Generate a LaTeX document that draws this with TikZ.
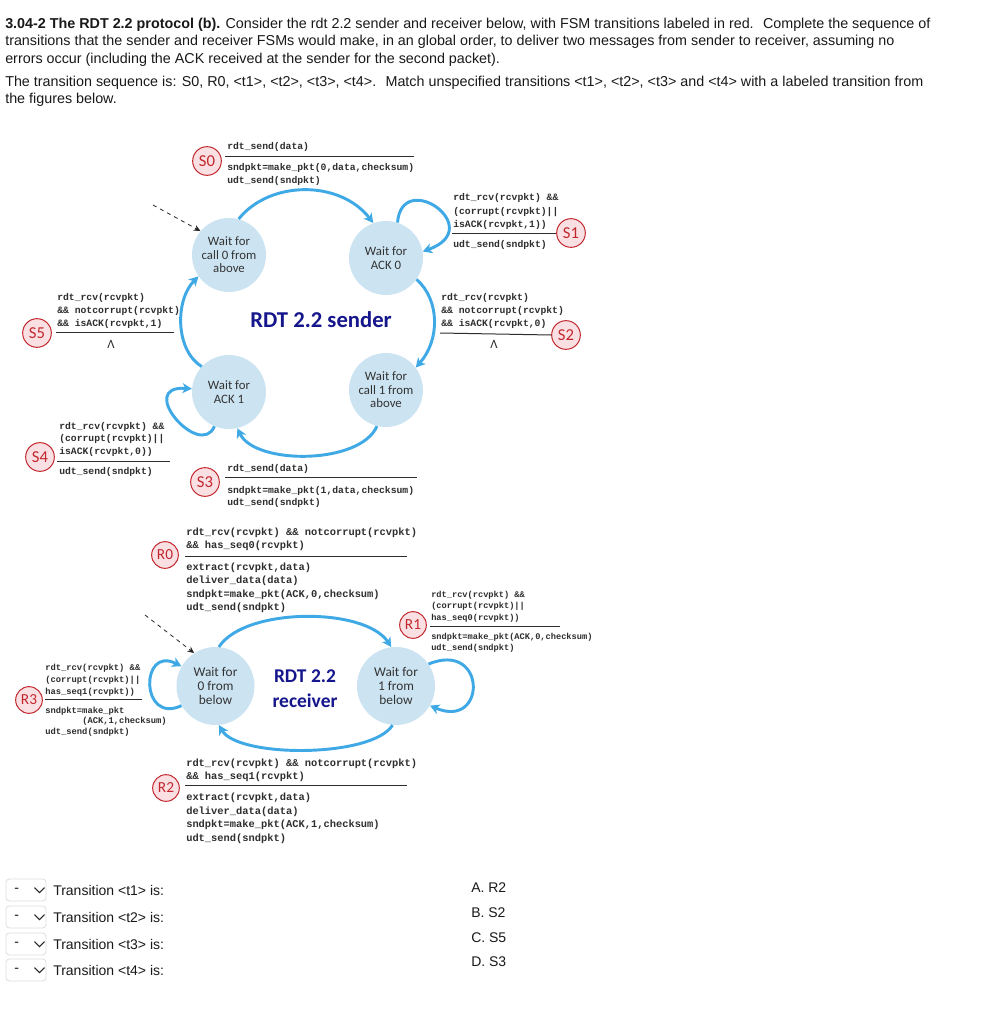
\documentclass[tikz,border=0pt]{standalone}
\usepackage{fontspec}
\setmainfont{Liberation Sans}
\newfontfamily\codefont{Liberation Mono}
\newfontfamily\stfont{Carlito}
\usetikzlibrary{arrows.meta}
\definecolor{stfill}{HTML}{CCE4F2}
\definecolor{arrblue}{HTML}{3FA9E6}
\definecolor{labred}{HTML}{C1272D}
\definecolor{labfill}{HTML}{FBE0E3}
\definecolor{titleblue}{HTML}{16168C}
\definecolor{codegray}{HTML}{2E2E2E}
\definecolor{boxgray}{HTML}{DDDDDD}
\begin{document}
\begin{tikzpicture}[x=0.75pt,y=-0.75pt,
  sstate/.style={circle, fill=stfill, minimum size=55.5pt, inner sep=0pt, align=center,
    font=\stfont\fontsize{9.6pt}{10.1pt}\selectfont, text=black!80},
  rstate/.style={sstate, minimum size=58.5pt, font=\stfont\fontsize{10pt}{10.5pt}\selectfont},
  tlab/.style={circle, draw=labred, fill=labfill, line width=0.75pt, minimum size=21.5pt,
    inner sep=0pt, text=labred, font=\stfont\fontsize{12.5pt}{12.5pt}\selectfont},
  rlab/.style={tlab, minimum size=20pt, font=\stfont\fontsize{11.5pt}{11.5pt}\selectfont},
  code/.style={anchor=north west, inner sep=0pt, align=left, text=codegray},
  scode/.style={code, font=\codefont\bfseries\fontsize{7.3pt}{9.5pt}\selectfont},
  rcode/.style={code, font=\codefont\bfseries\fontsize{7.8pt}{10.1pt}\selectfont},
  tcode/.style={code, font=\codefont\bfseries\fontsize{6.5pt}{8.5pt}\selectfont},
  lam/.style={inner sep=0pt, text=codegray, font=\stfont\fontsize{9.5pt}{9.5pt}\selectfont},
  rulel/.style={draw=codegray, line width=0.75pt},
  fsm/.style={draw=arrblue, line width=2.2pt, -{Stealth[length=7pt,width=7.5pt,inset=2pt]}},
  init/.style={draw=black!85, dashed, line width=0.6pt, -{Stealth[length=5pt,width=4.5pt]}},
  ttl/.style={text=titleblue, align=center, inner sep=0pt},
  para/.style={anchor=north west, inner sep=0pt, align=left, font=\fontsize{10.75pt}{13.1pt}\selectfont, text=black!90},
  qbox/.style={draw=boxgray, rounded corners=2.5pt, line width=0.6pt, minimum width=30pt, minimum height=16.5pt, inner sep=0pt},
  qtext/.style={anchor=west, inner sep=0pt, font=\fontsize{10.5pt}{12pt}\selectfont, text=black!90}
]
\fill[white] (0,0) rectangle (1007,1024);
\useasboundingbox (0,0) rectangle (1007,1024);

% header
\node[para] (hd1) at (5,17.5) {\textbf{3.04-2 The RDT 2.2 protocol (b).} Consider the rdt 2.2 sender and receiver below, with FSM transitions labeled in red.~ Complete the sequence of\\
transitions that the sender and receiver FSMs would make, in an global order, to deliver two messages from sender to receiver, assuming no\\
errors occur (including the ACK received at the sender for the second packet).};
\node[para] (hd2) at (5,75.5) {The transition sequence is: S0, R0, <t1>, <t2>, <t3>, <t4>.~ Match unspecified transitions <t1>, <t2>, <t3> and <t4> with a labeled transition from\\
the figures below.};

% sender states
\node[sstate] (c0) at (229,255) {Wait for\\call 0 from\\above};
\node[sstate] (a0) at (386,258) {Wait for\\ACK 0};
\node[sstate] (a1) at (229,392) {Wait for\\ACK 1};
\node[sstate] (c1) at (386,390) {Wait for\\call 1 from\\above};
\node[ttl, font=\stfont\bfseries\fontsize{17pt}{18pt}\selectfont] (st) at (321,320) {RDT 2.2 sender};

\draw[fsm] (c0.75) .. controls (270,180) and (340,180) .. (a0.110);
\draw[fsm] (a0.-35) .. controls (440,300) and (440,340) .. (c1.37);
\draw[fsm] (c1.-104) .. controls (360,465) and (255,465) .. (a1.-77);
\draw[fsm] (a1.137) .. controls (175,350) and (175,300) .. (c0.-145);
\draw[fsm] (a0.72) .. controls (402,168) and (488,228) .. (a0.10);
\draw[fsm] (a1.-113) .. controls (200,460) and (135,385) .. (a1.175);
\coordinate (si) at (153,205);
\draw[init] (si) -- (c0.140);

% S0
\node[tlab] (S0) at (207,161) {S0};
\node[scode] (s0c) at (227,142) {rdt\_send(data)};
\draw[rulel] (225,156) -- (414,156);
\node[scode] (s0a) at (227,163.5) {sndpkt=make\_pkt(0,data,checksum)\\udt\_send(sndpkt)};
% S1
\node[tlab] (S1) at (571,233) {S1};
\node[scode, font=\codefont\bfseries\fontsize{7.3pt}{9.9pt}\selectfont] (s1c) at (453,193.5) {rdt\_rcv(rcvpkt) \&\&\\(corrupt(rcvpkt)||\\isACK(rcvpkt,1))};
\draw[rulel] (452,233) -- (S1.west);
\node[scode] (s1a) at (453,240) {udt\_send(sndpkt)};
% S2
\node[tlab] (S2) at (566,335) {S2};
\node[scode] (s2c) at (441,293.5) {rdt\_rcv(rcvpkt)\\\&\& notcorrupt(rcvpkt)\\\&\& isACK(rcvpkt,0)};
\draw[rulel] (440,333) -- (S2.west);
\node[lam] (s2l) at (494,344) {Λ};
% S5
\node[tlab] (S5) at (37,333) {S5};
\node[scode] (s5c) at (57,293.5) {rdt\_rcv(rcvpkt)\\\&\& notcorrupt(rcvpkt)\\\&\& isACK(rcvpkt,1)};
\draw[rulel] (56,332.5) -- (174,332.5);
\node[lam] (s5l) at (111,344) {Λ};
% S4
\node[tlab] (S4) at (40,457) {S4};
\node[scode] (s4c) at (59,422) {rdt\_rcv(rcvpkt) \&\&\\(corrupt(rcvpkt)||\\isACK(rcvpkt,0))};
\draw[rulel] (57,461.5) -- (170,461.5);
\node[scode] (s4a) at (59,467.5) {udt\_send(sndpkt)};
% S3
\node[tlab] (S3) at (205,482) {S3};
\node[scode] (s3c) at (227,464.5) {rdt\_send(data)};
\draw[rulel] (225,477.5) -- (417,477.5);
\node[scode] (s3a) at (227,486) {sndpkt=make\_pkt(1,data,checksum)\\udt\_send(sndpkt)};

% receiver states
\node[rstate] (l0) at (215.5,686) {Wait for\\0 from\\below};
\node[rstate] (l1) at (396,686) {Wait for\\1 from\\below};
\node[ttl, font=\stfont\bfseries\fontsize{14.6pt}{18.7pt}\selectfont] (rt) at (305,689) {RDT 2.2\\receiver};

\draw[fsm] (l0.85) .. controls (245,607) and (365,607) .. (l1.97);
\draw[fsm] (l1.-95) .. controls (372,758) and (238,758) .. (l0.-85);
\draw[fsm] (l0.-150) .. controls (140,725) and (140,645) .. (l0.150);
\draw[fsm] (l1.34) .. controls (487,640) and (487,730) .. (l1.-30);
\coordinate (ri) at (145,615);
\draw[init] (ri) -- (l0.123);

% R0
\node[rlab] (R0) at (165,555) {R0};
\node[rcode] (r0c) at (186,527.5) {rdt\_rcv(rcvpkt) \&\& notcorrupt(rcvpkt)\\\&\& has\_seq0(rcvpkt)};
\draw[rulel] (185,556) -- (407,556);
\node[rcode] (r0a) at (186,562.5) {extract(rcvpkt,data)\\deliver\_data(data)\\sndpkt=make\_pkt(ACK,0,checksum)\\udt\_send(sndpkt)};
% R1
\node[rlab] (R1) at (413,625) {R1};
\node[tcode] (r1c) at (431,591) {rdt\_rcv(rcvpkt) \&\&\\(corrupt(rcvpkt)||\\has\_seq0(rcvpkt))};
\draw[rulel] (430,626.5) -- (560,626.5);
\node[tcode] (r1a) at (431,633) {sndpkt=make\_pkt(ACK,0,checksum)\\udt\_send(sndpkt)};
% R3
\node[rlab] (R3) at (29,700) {R3};
\node[tcode, font=\codefont\bfseries\fontsize{6.6pt}{8.8pt}\selectfont] (r3c) at (45,664) {rdt\_rcv(rcvpkt) \&\&\\(corrupt(rcvpkt)||\\has\_seq1(rcvpkt))};
\draw[rulel] (45,699.3) -- (142,699.3);
\node[tcode, font=\codefont\bfseries\fontsize{6.6pt}{7.9pt}\selectfont] (r3a) at (45,706.5) {sndpkt=make\_pkt\\\hspace*{27.75pt}(ACK,1,checksum)\\udt\_send(sndpkt)};
% R2
\node[rlab] (R2) at (166,788) {R2};
\node[rcode] (r2c) at (186,758.7) {rdt\_rcv(rcvpkt) \&\& notcorrupt(rcvpkt)\\\&\& has\_seq1(rcvpkt)};
\draw[rulel] (185,785.7) -- (407,785.7);
\node[rcode] (r2a) at (186,793) {extract(rcvpkt,data)\\deliver\_data(data)\\sndpkt=make\_pkt(ACK,1,checksum)\\udt\_send(sndpkt)};

% questions
\foreach \i/\yy in {1/890,2/917,3/944,4/970}{
  \node[qbox] (qb\i) at (26,\yy) {};
  \node[qtext] (qd\i) at (14,\yy) {-};
  \draw[black!85, line width=0.8pt] (34.5,\yy-2.5) -- (39.5,\yy+2.5) -- (44.5,\yy-2.5);
  \node[qtext] (qt\i) at (53,\yy) {Transition <t\i> is:};
}
\node[qtext] (ansA) at (471,888) {A. R2};
\node[qtext] (ansB) at (471,913) {B. S2};
\node[qtext] (ansC) at (471,938) {C. S5};
\node[qtext] (ansD) at (471,962) {D. S3};
\end{tikzpicture}
\end{document}
